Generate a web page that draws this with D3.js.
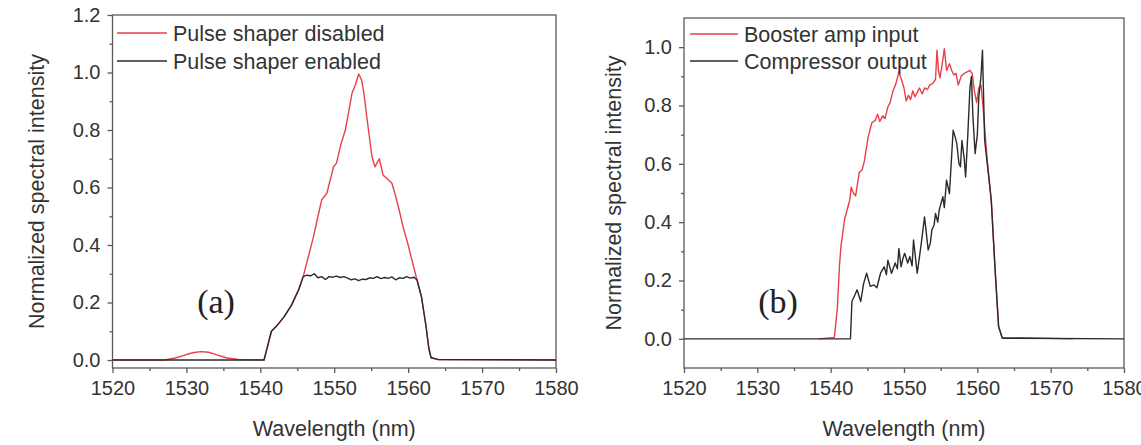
<!DOCTYPE html>
<html lang="en">
<head>
<meta charset="utf-8">
<title>Normalized spectra</title>
<script src="https://cdn.jsdelivr.net/npm/d3@7"></script>
<style>
  body { margin: 0; background: #fff; }
  svg { display: block; font-family: "Liberation Sans", Arial, sans-serif; }
  .tick text { fill: #333; }
</style>
</head>
<body>
<div id="chart"></div>
<script>
// ---- data ----
var xTicks = [1520, 1530, 1540, 1550, 1560, 1570, 1580];

// panel (a)
var disabledNm  = [1520,1527,1528.5,1530,1531,1532,1533,1534,1535.5,1537,1540.5,1541,1541.5,1542.2,1543.2,1544.2,1545.2,1545.8,1546.5,1547.2,1547.8,1548.3,1549.0,1549.9,1550.3,1550.9,1551.5,1552.0,1552.4,1552.9,1553.3,1553.5,1553.7,1554.0,1554.4,1555.1,1555.5,1556.1,1556.6,1557.1,1557.8,1558.2,1558.8,1559.3,1560.0,1560.5,1561.2,1561.8,1562.4,1562.8,1563.1,1564,1580];
var disabledVal = [0,0,0.007,0.019,0.026,0.029,0.027,0.019,0.007,0.002,0,0.05,0.1,0.118,0.15,0.19,0.245,0.29,0.36,0.43,0.5,0.557,0.58,0.672,0.685,0.75,0.8,0.87,0.928,0.96,0.995,0.985,0.974,0.93,0.846,0.707,0.672,0.7,0.643,0.632,0.615,0.58,0.52,0.464,0.4,0.348,0.278,0.22,0.12,0.04,0.008,0.002,0];
var enabledNm   = [1520,1540.5,1541,1541.5,1542.2,1543.2,1544.2,1545.2,1545.8,1546.3,1546.8,1547.3,1547.8,1548.3,1548.8,1549.3,1549.8,1550.3,1550.8,1551.3,1551.8,1552.3,1552.8,1553.3,1553.8,1554.3,1554.8,1555.3,1555.8,1556.3,1556.8,1557.3,1557.8,1558.3,1558.8,1559.3,1559.8,1560.3,1560.8,1561.2,1561.8,1562.4,1562.8,1563.1,1564,1580];
var enabledVal  = [0,0,0.05,0.1,0.118,0.15,0.19,0.245,0.29,0.295,0.293,0.3,0.286,0.29,0.28,0.29,0.288,0.292,0.287,0.29,0.285,0.279,0.282,0.276,0.281,0.28,0.286,0.284,0.29,0.283,0.287,0.284,0.289,0.279,0.286,0.284,0.29,0.285,0.288,0.278,0.22,0.12,0.04,0.008,0.002,0];

// panel (b)
var boosterNm  = [1538.4,1540.5,1540.9,1541.2,1541.4,1541.9,1542.6,1542.8,1543.1,1543.4,1543.9,1544.3,1544.6,1545.1,1545.6,1546.1,1546.4,1546.7,1547.1,1547.4,1547.8,1548.1,1548.5,1548.9,1549.3,1549.7,1550.0,1550.3,1550.6,1550.9,1551.2,1551.5,1551.8,1552.1,1552.5,1552.8,1553.2,1553.5,1553.9,1554.3,1554.5,1554.7,1554.9,1555.2,1555.5,1555.8,1556.2,1556.5,1556.8,1557.1,1557.4,1557.8,1558.2,1558.6,1559.0,1559.3,1559.6,1559.9,1560.2,1560.5,1560.8,1561.1,1561.4,1561.9,1562.4,1562.9,1563.4,1573];
var boosterVal = [0,0.005,0.1,0.25,0.316,0.41,0.475,0.52,0.5,0.49,0.57,0.58,0.61,0.69,0.74,0.75,0.77,0.745,0.765,0.755,0.795,0.81,0.85,0.875,0.915,0.885,0.86,0.815,0.835,0.82,0.85,0.83,0.845,0.86,0.84,0.86,0.855,0.87,0.875,0.89,0.99,0.92,0.895,0.94,0.995,0.92,0.943,0.92,0.905,0.91,0.87,0.9,0.91,0.915,0.92,0.91,0.85,0.81,0.86,0.87,0.79,0.69,0.6,0.475,0.247,0.042,0.005,0];
var compNm  = [1520,1542.7,1542.9,1543.3,1543.6,1544.1,1544.5,1544.9,1545.4,1545.9,1546.3,1546.8,1547.3,1547.6,1547.8,1548.3,1548.8,1549.1,1549.3,1549.6,1549.9,1550.1,1550.5,1550.8,1551.1,1551.3,1551.6,1551.8,1552.3,1552.8,1553.3,1553.6,1553.8,1554.1,1554.3,1554.6,1554.8,1555.0,1555.3,1555.5,1555.8,1556.2,1556.7,1557.0,1557.2,1557.5,1557.7,1557.9,1558.2,1558.4,1558.7,1559.0,1559.2,1559.4,1559.7,1560.0,1560.2,1560.5,1560.7,1561.0,1561.4,1561.9,1562.4,1562.9,1563.4,1580];
var compVal = [0,0,0.128,0.15,0.168,0.128,0.19,0.225,0.18,0.185,0.175,0.225,0.247,0.22,0.27,0.225,0.26,0.24,0.31,0.247,0.28,0.293,0.26,0.282,0.25,0.339,0.27,0.225,0.316,0.418,0.304,0.33,0.373,0.39,0.43,0.4,0.441,0.46,0.487,0.45,0.544,0.498,0.715,0.69,0.669,0.6,0.59,0.68,0.62,0.555,0.7,0.863,0.9,0.76,0.635,0.7,0.829,0.9,0.99,0.68,0.59,0.475,0.247,0.042,0.002,0];

var W = 1141, H = 445;
var RED = "#e8404a", BLACK = "#2b2b2b", AXIS = "#5a5a5a", TXT = "#333";

var svg = d3.select("#chart").append("svg").attr("width", W).attr("height", H);

function zip(xs, ys) { return xs.map(function(x, i) { return [x, ys[i]]; }); }

function panel(opt) {
  var x = d3.scaleLinear().domain([1520, 1580]).range([opt.left, opt.right]);
  var y = d3.scaleLinear().domain(opt.yDomain).range([368, opt.top]);
  var g = svg.append("g");

  // minor ticks
  var xMinor = d3.range(1525, 1580, 10);
  g.append("g").attr("transform", "translate(0,368)")
    .call(d3.axisBottom(x).tickValues(xMinor).tickSize(3).tickFormat(""))
    .call(function(s) { s.select(".domain").remove(); s.selectAll("line").attr("stroke", AXIS).attr("stroke-width", 1.3); });
  g.append("g").attr("transform", "translate(" + opt.left + ",0)")
    .call(d3.axisLeft(y).tickValues(opt.yMinor).tickSize(3).tickFormat(""))
    .call(function(s) { s.select(".domain").remove(); s.selectAll("line").attr("stroke", AXIS).attr("stroke-width", 1.3); });

  // major ticks
  g.append("g").attr("transform", "translate(0,368)")
    .call(d3.axisBottom(x).tickValues(xTicks).tickSize(5).tickPadding(8).tickFormat(d3.format("d")))
    .call(function(s) {
      s.select(".domain").remove();
      s.selectAll("line").attr("stroke", AXIS).attr("stroke-width", 1.3);
      s.selectAll("text").attr("font-size", 20).attr("font-family", "Liberation Sans, Arial, sans-serif").attr("fill", TXT);
    });
  g.append("g").attr("transform", "translate(" + opt.left + ",0)")
    .call(d3.axisLeft(y).tickValues(opt.yTicks).tickSize(5).tickPadding(7).tickFormat(d3.format(".1f")))
    .call(function(s) {
      s.select(".domain").remove();
      s.selectAll("line").attr("stroke", AXIS).attr("stroke-width", 1.3);
      s.selectAll("text").attr("font-size", 20).attr("font-family", "Liberation Sans, Arial, sans-serif").attr("fill", TXT);
    });

  // frame
  g.append("rect")
    .attr("x", opt.left).attr("y", opt.top)
    .attr("width", opt.right - opt.left).attr("height", 368 - opt.top)
    .attr("fill", "none").attr("stroke", AXIS).attr("stroke-width", 1.3);

  // curves
  var line = d3.line().x(function(d) { return x(d[0]); }).y(function(d) { return y(d[1]); });
  opt.series.forEach(function(s) {
    g.append("path").datum(s.data).attr("d", line)
      .attr("fill", "none").attr("stroke", s.color).attr("stroke-width", 1.4)
      .attr("stroke-linejoin", "round");
  });

  // legend
  opt.series.forEach(function(s, i) {
    var ly = opt.legendY[i];
    g.append("line").attr("x1", opt.legendX).attr("x2", opt.legendX + opt.legendLen)
      .attr("y1", ly).attr("y2", ly).attr("stroke", s.color).attr("stroke-width", 1.4);
    g.append("text").attr("x", opt.legendX + opt.legendLen + 6).attr("y", ly)
      .attr("dy", "0.36em").attr("font-size", 21.5).attr("fill", TXT).text(s.name);
  });

  // axis titles
  g.append("text").attr("x", (opt.left + opt.right) / 2).attr("y", 436)
    .attr("text-anchor", "middle").attr("font-size", 21.5).attr("fill", TXT)
    .text("Wavelength (nm)");
  g.append("text")
    .attr("transform", "translate(" + opt.titleX + "," + ((opt.top + 368) / 2) + ") rotate(-90)")
    .attr("text-anchor", "middle").attr("dy", "0.36em").attr("font-size", 21.5).attr("fill", TXT)
    .text("Normalized spectral intensity");

  // panel label
  g.append("text").attr("x", opt.tagX).attr("y", 313)
    .attr("text-anchor", "middle").attr("font-family", "Liberation Serif, Times New Roman, serif")
    .attr("font-size", 34).attr("fill", "#222").text(opt.tag);
}

panel({
  left: 112.5, right: 556, top: 15,
  yDomain: [-0.0278, 1.2],
  yTicks: [0, 0.2, 0.4, 0.6, 0.8, 1.0, 1.2],
  yMinor: [0.1, 0.3, 0.5, 0.7, 0.9, 1.1],
  series: [
    { name: "Pulse shaper disabled", color: RED,   data: zip(disabledNm, disabledVal) },
    { name: "Pulse shaper enabled",  color: BLACK, data: zip(enabledNm, enabledVal) }
  ],
  legendX: 117, legendLen: 50, legendY: [33, 61],
  titleX: 36, tag: "(a)", tagX: 216
});

panel({
  left: 684, right: 1124, top: 18,
  yDomain: [-0.1, 1.1],
  yTicks: [0, 0.2, 0.4, 0.6, 0.8, 1.0],
  yMinor: [0.1, 0.3, 0.5, 0.7, 0.9],
  series: [
    { name: "Booster amp input", color: RED,   data: zip(boosterNm, boosterVal) },
    { name: "Compressor output", color: BLACK, data: zip(compNm, compVal) }
  ],
  legendX: 690, legendLen: 48, legendY: [34, 61],
  titleX: 613, tag: "(b)", tagX: 778
});
</script>
</body>
</html>
